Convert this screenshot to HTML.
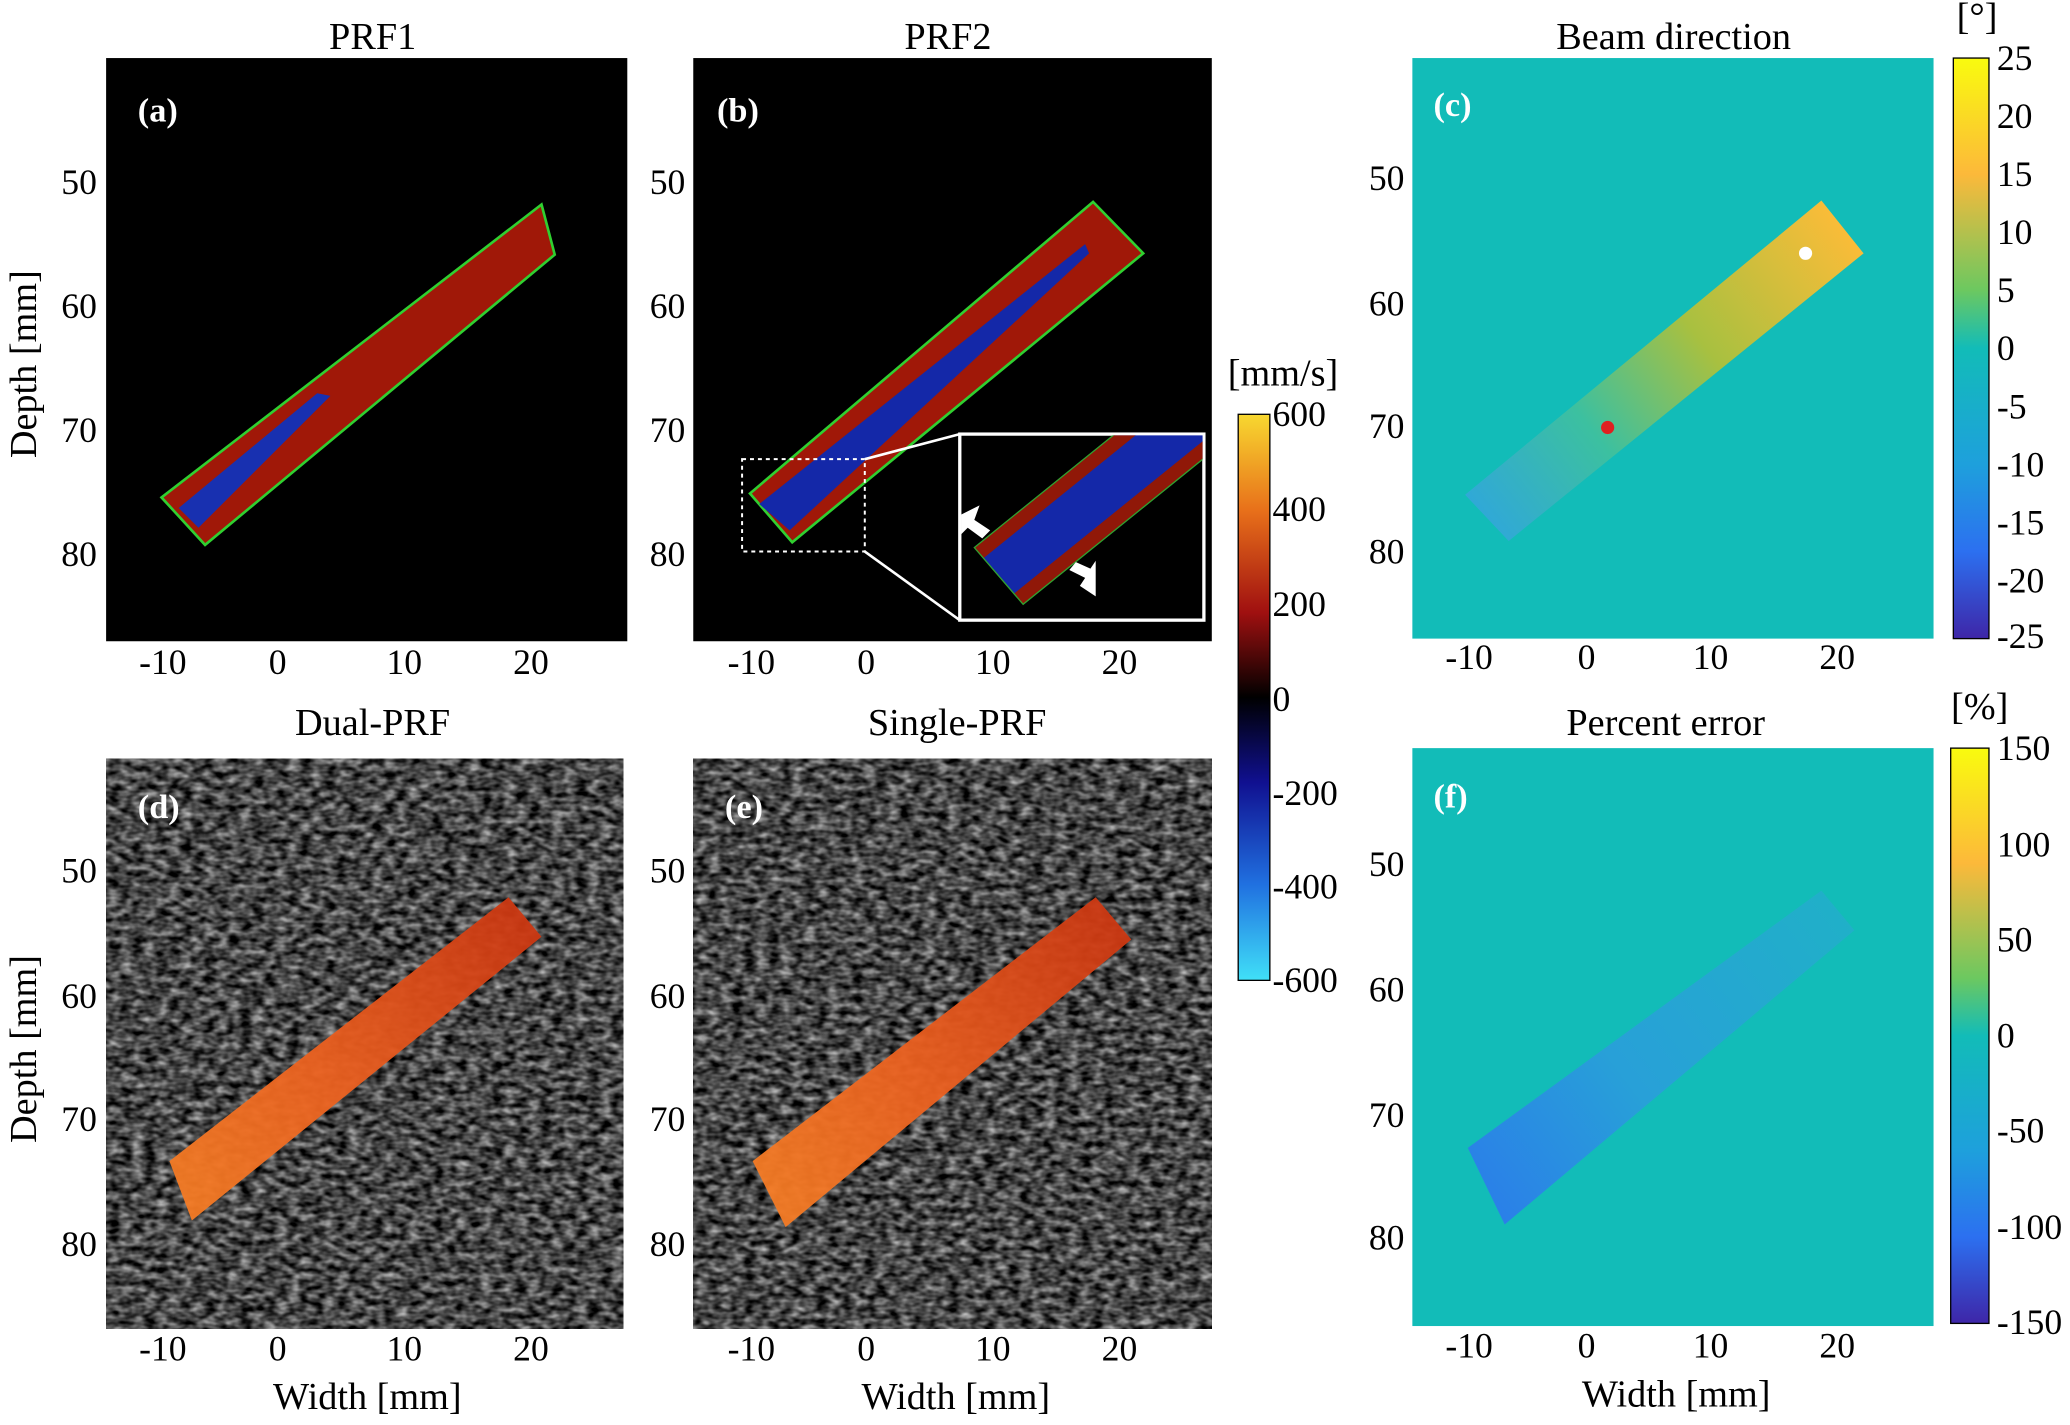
<!DOCTYPE html>
<html><head><meta charset="utf-8"><style>
html,body{margin:0;padding:0;background:#fff;}
svg{display:block;}
text{font-family:"Liberation Serif",serif;fill:#000;}
</style></head><body>
<svg width="2070" height="1425" viewBox="0 0 1568 1080" xmlns="http://www.w3.org/2000/svg">
<defs>
<filter id="spk" x="0" y="0" width="100%" height="100%" color-interpolation-filters="sRGB">
<feTurbulence type="fractalNoise" baseFrequency="0.11 0.2" numOctaves="2" seed="3"/>
<feColorMatrix type="matrix" values="1.1 0 0 0 -0.27  1.1 0 0 0 -0.27  1.1 0 0 0 -0.27  0 0 0 0 1"/>
</filter>
<clipPath id="ins"><rect x="728" y="330" width="183" height="139"/></clipPath>
<linearGradient id="vel" x1="0" y1="0" x2="0" y2="1">
<stop offset="0" stop-color="#f8d830"/><stop offset="0.17" stop-color="#e8701a"/>
<stop offset="0.35" stop-color="#a01010"/><stop offset="0.5" stop-color="#000"/>
<stop offset="0.65" stop-color="#101090"/><stop offset="0.83" stop-color="#2070e0"/>
<stop offset="1" stop-color="#40e0f8"/></linearGradient>
<linearGradient id="par" x1="0" y1="0" x2="0" y2="1">
<stop offset="0" stop-color="#f9fb0e"/><stop offset="0.2" stop-color="#fcb93a"/>
<stop offset="0.4" stop-color="#6cc860"/><stop offset="0.5" stop-color="#12bcb8"/>
<stop offset="0.7" stop-color="#1ea0dc"/><stop offset="0.85" stop-color="#2c70f0"/>
<stop offset="1" stop-color="#3e26a8"/></linearGradient>
<linearGradient id="cvess" x1="1120" y1="390" x2="1400" y2="170" gradientUnits="userSpaceOnUse">
<stop offset="0" stop-color="#30a8d8"/><stop offset="0.3" stop-color="#3cc0a0"/>
<stop offset="0.6" stop-color="#a8c040"/><stop offset="1" stop-color="#fcbc38"/></linearGradient>
<linearGradient id="red" x1="140" y1="895" x2="400" y2="700" gradientUnits="userSpaceOnUse">
<stop offset="0" stop-color="#f47a24"/><stop offset="0.4" stop-color="#ec6220"/><stop offset="1" stop-color="#cc3812"/></linearGradient>
<linearGradient id="red2" x1="585" y1="895" x2="845" y2="700" gradientUnits="userSpaceOnUse">
<stop offset="0" stop-color="#f47a24"/><stop offset="0.4" stop-color="#ec6220"/><stop offset="1" stop-color="#cc3812"/></linearGradient>
<linearGradient id="fv" x1="1120" y1="900" x2="1400" y2="690" gradientUnits="userSpaceOnUse">
<stop offset="0" stop-color="#2a80e8"/><stop offset="0.4" stop-color="#28a0d8"/><stop offset="1" stop-color="#20b0c8"/></linearGradient>
</defs>
<g font-size="27">
<!-- panel a -->
<rect x="80" y="44" width="395" height="442" fill="#000"/>
<polygon points="122,377 155,413 420,193 410,155" fill="#a01808" stroke="#30d030" stroke-width="2"/>
<polygon points="135,385 150,400 250,300 240,298" fill="#1830b0"/>
<text x="104" y="92" style="fill:#fff;font-weight:bold" font-size="26">(a)</text>
<text x="282" y="37" text-anchor="middle" font-size="29">PRF1</text>
<g text-anchor="end"><text x="73" y="147">50</text><text x="73" y="241">60</text><text x="73" y="335">70</text><text x="73" y="429">80</text></g>
<g text-anchor="middle"><text x="123" y="511">-10</text><text x="210" y="511">0</text><text x="306" y="511">10</text><text x="402" y="511">20</text></g>
<text transform="translate(27,276) rotate(-90)" text-anchor="middle" font-size="29">Depth [mm]</text>
<!-- panel b -->
<rect x="525" y="44" width="393" height="442" fill="#000"/>
<polygon points="568,374 600,411 866,192 828,153" fill="#a01808" stroke="#30d030" stroke-width="2"/>
<polygon points="575,382 598,402 825,192 822,185" fill="#1428a8"/>
<rect x="562" y="348" width="93" height="70" fill="none" stroke="#fff" stroke-width="1.5" stroke-dasharray="3,3"/>
<line x1="655" y1="348" x2="727" y2="329" stroke="#fff" stroke-width="2"/>
<line x1="655" y1="418" x2="727" y2="470" stroke="#fff" stroke-width="2"/>
<rect x="727" y="329" width="185" height="141" fill="#000" stroke="#fff" stroke-width="2.5"/>
<g clip-path="url(#ins)">
<polygon points="738,415 775,458 1030,252 993,209" fill="#1428a8"/>
<polygon points="738,415 745,423 1000,217 993,209" fill="#901808"/>
<polygon points="768,450 775,458 1030,252 1023,244" fill="#901808"/>
<polygon points="738,415 775,458 1030,252 993,209" fill="none" stroke="#30a030" stroke-width="1"/>
</g>
<polygon points="728,390 742,383 738,394 750,402 744,408 733,400 728,405" fill="#fff"/>
<polygon points="830,452 818,444 822,438 810,432 815,426 826,431 830,425" fill="#fff"/>
<text x="543" y="92" style="fill:#fff;font-weight:bold" font-size="26">(b)</text>
<text x="718" y="37" text-anchor="middle" font-size="29">PRF2</text>
<g text-anchor="end"><text x="519" y="147">50</text><text x="519" y="241">60</text><text x="519" y="335">70</text><text x="519" y="429">80</text></g>
<g text-anchor="middle"><text x="569" y="511">-10</text><text x="656" y="511">0</text><text x="752" y="511">10</text><text x="848" y="511">20</text></g>
<!-- velocity colorbar -->
<rect x="938" y="314" width="24" height="429" fill="url(#vel)" stroke="#000" stroke-width="1"/>
<text x="972" y="292" text-anchor="middle" font-size="29">[mm/s]</text>
<g><text x="964" y="323">600</text><text x="964" y="395">400</text><text x="964" y="467">200</text><text x="964" y="539">0</text><text x="964" y="610">-200</text><text x="964" y="681">-400</text><text x="964" y="752">-600</text></g>
<!-- panel c -->
<rect x="1070" y="44" width="395" height="440" fill="#12bcb8"/>
<polygon points="1110,375 1143,410 1412,192 1380,152" fill="url(#cvess)"/>
<circle cx="1218" cy="324" r="5" fill="#e02020"/>
<circle cx="1368" cy="192" r="5" fill="#fff"/>
<text x="1086" y="88" style="fill:#fff;font-weight:bold" font-size="26">(c)</text>
<text x="1268" y="37" text-anchor="middle" font-size="29">Beam direction</text>
<g text-anchor="end"><text x="1064" y="144">50</text><text x="1064" y="239">60</text><text x="1064" y="332">70</text><text x="1064" y="427">80</text></g>
<g text-anchor="middle"><text x="1113" y="507">-10</text><text x="1202" y="507">0</text><text x="1296" y="507">10</text><text x="1392" y="507">20</text></g>
<rect x="1480" y="44" width="27" height="440" fill="url(#par)" stroke="#000" stroke-width="1"/>
<text x="1498" y="22" text-anchor="middle" font-size="29">[°]</text>
<g><text x="1513" y="53">25</text><text x="1513" y="97">20</text><text x="1513" y="141">15</text><text x="1513" y="185">10</text><text x="1513" y="229">5</text><text x="1513" y="273">0</text><text x="1513" y="317">-5</text><text x="1513" y="361">-10</text><text x="1513" y="405">-15</text><text x="1513" y="449">-20</text><text x="1513" y="491">-25</text></g>
<!-- panel d -->
<rect x="80" y="575" width="392" height="432" filter="url(#spk)"/>
<polygon points="128,880 145,925 410,710 385,680" fill="url(#red)" opacity="0.95"/>
<text x="104" y="620" style="fill:#fff;font-weight:bold" font-size="26">(d)</text>
<text x="282" y="557" text-anchor="middle" font-size="29">Dual-PRF</text>
<g text-anchor="end"><text x="73" y="669">50</text><text x="73" y="764">60</text><text x="73" y="857">70</text><text x="73" y="952">80</text></g>
<g text-anchor="middle"><text x="123" y="1031">-10</text><text x="210" y="1031">0</text><text x="306" y="1031">10</text><text x="402" y="1031">20</text></g>
<text x="278" y="1068" text-anchor="middle" font-size="29">Width [mm]</text>
<text transform="translate(27,795) rotate(-90)" text-anchor="middle" font-size="29">Depth [mm]</text>
<!-- panel e -->
<rect x="525" y="575" width="393" height="432" filter="url(#spk)"/>
<polygon points="570,880 595,930 857,712 830,680" fill="url(#red2)" opacity="0.95"/>
<text x="549" y="620" style="fill:#fff;font-weight:bold" font-size="26">(e)</text>
<text x="725" y="557" text-anchor="middle" font-size="29">Single-PRF</text>
<g text-anchor="end"><text x="519" y="669">50</text><text x="519" y="764">60</text><text x="519" y="857">70</text><text x="519" y="952">80</text></g>
<g text-anchor="middle"><text x="569" y="1031">-10</text><text x="656" y="1031">0</text><text x="752" y="1031">10</text><text x="848" y="1031">20</text></g>
<text x="724" y="1068" text-anchor="middle" font-size="29">Width [mm]</text>
<!-- panel f -->
<rect x="1070" y="567" width="395" height="438" fill="#12bcb8"/>
<polygon points="1112,870 1140,928 1405,705 1380,675" fill="url(#fv)"/>
<text x="1086" y="612" style="fill:#fff;font-weight:bold" font-size="26">(f)</text>
<text x="1262" y="557" text-anchor="middle" font-size="29">Percent error</text>
<g text-anchor="end"><text x="1064" y="664">50</text><text x="1064" y="759">60</text><text x="1064" y="854">70</text><text x="1064" y="947">80</text></g>
<g text-anchor="middle"><text x="1113" y="1029">-10</text><text x="1202" y="1029">0</text><text x="1296" y="1029">10</text><text x="1392" y="1029">20</text></g>
<text x="1270" y="1066" text-anchor="middle" font-size="29">Width [mm]</text>
<rect x="1478" y="567" width="29" height="436" fill="url(#par)" stroke="#000" stroke-width="1"/>
<text x="1500" y="545" text-anchor="middle" font-size="29">[%]</text>
<g><text x="1513" y="576">150</text><text x="1513" y="649">100</text><text x="1513" y="721">50</text><text x="1513" y="794">0</text><text x="1513" y="866">-50</text><text x="1513" y="939">-100</text><text x="1513" y="1011">-150</text></g>
</g>
</svg>
</body></html>
